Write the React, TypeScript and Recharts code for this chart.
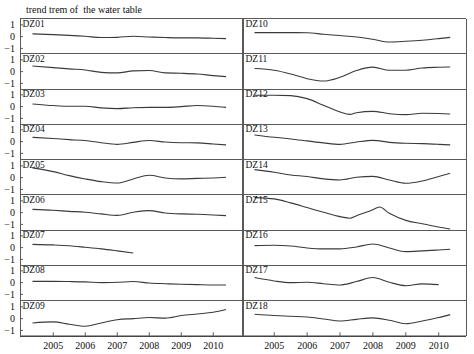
import React from "react";
import { LineChart, Line, XAxis, YAxis } from "recharts";

const title = "trend trem of  the water table";
const yearsLeft = [2004.35, 2005, 2005.5, 2006, 2006.5, 2007, 2007.3, 2007.5, 2008, 2008.2, 2008.5, 2009, 2009.5, 2010, 2010.4];
const yearsRight = [2004.4, 2005, 2005.5, 2006, 2006.5, 2007, 2007.3, 2007.5, 2008, 2008.2, 2008.5, 2009, 2009.5, 2010, 2010.35];
const xTicks = [2005, 2006, 2007, 2008, 2009, 2010];
const yTicks = [-1, 0, 1];

const leftLabels = ["DZ01", "DZ02", "DZ03", "DZ04", "DZ05", "DZ06", "DZ07", "DZ08", "DZ09"];
const rightLabels = ["DZ10", "DZ11", "DZ12", "DZ13", "DZ14", "DZ15", "DZ16", "DZ17", "DZ18"];

const dz01 = [0.23, 0.17, 0.11, 0.03, -0.08, -0.06, null, 0.03, -0.03, null, -0.08, -0.11, -0.11, -0.14, -0.17];
const dz02 = [0.48, 0.34, 0.23, 0.14, -0.06, -0.11, null, 0.06, 0.1, null, -0.11, -0.14, -0.2, -0.34, -0.43];
const dz03 = [0.23, 0.09, 0.03, 0.03, -0.11, -0.17, null, -0.09, -0.06, null, -0.06, 0, 0.09, 0.03, -0.06];
const dz04 = [0.37, 0.26, 0.17, 0.09, -0.09, -0.23, null, -0.06, 0.09, null, -0.03, -0.09, -0.11, -0.2, -0.28];
const dz05 = [0.83, 0.51, 0.17, -0.11, -0.34, -0.46, null, -0.11, 0.2, null, -0.03, -0.11, -0.06, -0.03, 0.03];
const dz06 = [0.28, 0.2, 0.11, 0.03, -0.11, -0.23, null, 0.03, 0.17, null, -0.03, -0.11, -0.14, -0.2, -0.26];
const dz07 = [0.28, 0.23, 0.16, 0.03, -0.11, -0.28, null, -0.46, null, null, null, null, null, null, null];
const dz08 = [0.11, 0.11, 0.09, 0.06, 0, 0.03, null, 0.09, -0.03, null, -0.09, -0.14, -0.17, -0.2, -0.2];
const dz09 = [-0.37, -0.28, -0.48, -0.65, -0.37, -0.09, null, 0, 0.09, null, 0.04, 0.26, 0.4, 0.54, 0.77];

const dz10 = [0.34, 0.34, 0.34, 0.33, 0.2, 0.09, null, -0.03, -0.23, null, -0.46, -0.4, -0.31, -0.17, -0.06];
const dz11 = [0.26, 0.11, -0.2, -0.6, -0.8, -0.48, null, 0.09, 0.38, null, 0.12, 0.12, 0.31, 0.37, 0.4];
const dz12 = [0.97, 0.97, 0.94, 0.68, 0.11, -0.45, -0.66, -0.52, -0.4, null, -0.6, -0.68, -0.57, -0.58, -0.63];
const dz13 = [0.57, 0.37, 0.23, 0.06, -0.11, -0.23, null, -0.03, 0.11, null, -0.06, -0.14, -0.17, -0.23, -0.28];
const dz14 = [0.68, 0.46, 0.23, 0.09, -0.11, -0.2, null, 0.03, 0.11, null, -0.2, -0.48, -0.28, 0.09, 0.37];
const dz15 = [1.28, 1.17, 0.83, 0.43, 0.03, -0.34, -0.48, -0.26, 0.25, 0.48, -0.06, -0.66, -0.94, -1.23, -1.4];
const dz16 = [0.17, 0.2, 0.14, -0.03, -0.11, -0.11, null, 0.06, 0.31, null, -0.03, -0.34, -0.28, -0.2, -0.14];
const dz17 = [0.43, 0.14, 0, 0.03, -0.09, -0.2, null, 0.09, 0.43, null, 0.03, -0.26, -0.11, -0.17, null];
const dz18 = [0.37, 0.26, 0.2, 0.14, -0.03, -0.2, null, -0.06, 0.06, null, -0.14, -0.43, -0.2, 0.09, 0.34];

const leftSeries = [dz01, dz02, dz03, dz04, dz05, dz06, dz07, dz08, dz09];
const rightSeries = [dz10, dz11, dz12, dz13, dz14, dz15, dz16, dz17, dz18];

const TOP = 18.5;
const H = 35.25;
const ROWS = 9;
const FONT = "'Liberation Serif', 'DejaVu Serif', serif";
const LINE = "#3a3a3a";
const FRAME = "#5a5a5a";

const fmt = (v: number) => (v < 0 ? "\u2212" + Math.abs(v) : String(v));

const YTick = (props: any) => {
  const { x, y, payload } = props;
  return (
    <g>
      <line x1={x} x2={x + 3} y1={y} y2={y} stroke={FRAME} strokeWidth={1} />
      <text x={x - 5} y={y} dy={3.5} textAnchor="end" fontSize={10} fill="#111" fontFamily={FONT}>
        {fmt(payload.value)}
      </text>
    </g>
  );
};

const XTick = (props: any) => {
  const { x, y, payload } = props;
  return (
    <g>
      <line x1={x} x2={x} y1={y} y2={y - 4} stroke={FRAME} strokeWidth={1} />
      <text x={x} y={y + 13} textAnchor="middle" fontSize={10} fill="#111" fontFamily={FONT}>
        {payload.value}
      </text>
    </g>
  );
};

type PanelProps = {
  years: number[];
  values: (number | null)[];
  left: boolean;
  bottom: boolean;
  width: number;
  domain: [number, number];
};

const Panel = ({ years, values, left, bottom, width, domain }: PanelProps) => {
  const data = years.map((year, i) => ({ year, v: values[i] }));
  return (
    <LineChart
      width={width}
      height={bottom ? H + 20 : H}
      data={data}
      margin={{ top: 0, right: 0, bottom: 0, left: 0 }}
    >
      <XAxis
        type="number"
        dataKey="year"
        domain={domain}
        allowDataOverflow
        ticks={xTicks}
        interval={0}
        hide={!bottom}
        height={20}
        tickSize={0}
        tickMargin={0}
        tickLine={false}
        axisLine={{ stroke: "#444", strokeWidth: 1.5 }}
        tick={<XTick />}
      />
      <YAxis
        type="number"
        domain={[-1.5, 1.5]}
        allowDataOverflow
        ticks={yTicks}
        interval={0}
        hide={!left}
        width={20}
        tickSize={0}
        tickMargin={0}
        tickLine={false}
        axisLine={false}
        tick={<YTick />}
      />
      <Line
        type="monotone"
        dataKey="v"
        stroke={LINE}
        strokeWidth={1.1}
        dot={false}
        connectNulls
        isAnimationActive={false}
      />
    </LineChart>
  );
};

export default function App() {
  const rows = Array.from({ length: ROWS }, (_, i) => i);
  return (
    <div
      style={{
        position: "absolute",
        left: 0,
        top: 0,
        width: 474,
        height: 354,
        background: "#fff",
        fontFamily: FONT,
        overflow: "hidden",
      }}
    >
      <div
        style={{
          position: "absolute",
          left: 26,
          top: 3.6,
          fontSize: 10,
          lineHeight: "12px",
          whiteSpace: "pre",
          color: "#111",
        }}
      >
        {title}
      </div>

      {rows.map((i) => (
        <div key={"l" + i} style={{ position: "absolute", left: 0, top: TOP + i * H }}>
          <Panel
            years={yearsLeft}
            values={leftSeries[i]}
            left
            bottom={i === ROWS - 1}
            width={243}
            domain={[2003.96, 2010.93]}
          />
        </div>
      ))}
      {rows.map((i) => (
        <div key={"r" + i} style={{ position: "absolute", left: 243, top: TOP + i * H }}>
          <Panel
            years={yearsRight}
            values={rightSeries[i]}
            left={false}
            bottom={i === ROWS - 1}
            width={223}
            domain={[2004.05, 2010.83]}
          />
        </div>
      ))}

      {rows.map((i) => (
        <div
          key={"h" + i}
          style={{
            position: "absolute",
            left: 20,
            top: TOP + i * H - 0.5,
            width: 446,
            height: 0,
            borderTop: "1px solid " + FRAME,
          }}
        />
      ))}
      <div
        style={{
          position: "absolute",
          left: 19.5,
          top: TOP,
          width: 0,
          height: H * ROWS,
          borderLeft: "1px solid " + FRAME,
        }}
      />
      <div
        style={{
          position: "absolute",
          left: 242,
          top: TOP,
          width: 0,
          height: H * ROWS,
          borderLeft: "2px solid " + FRAME,
        }}
      />
      <div
        style={{
          position: "absolute",
          left: 465.5,
          top: TOP,
          width: 0,
          height: H * ROWS,
          borderLeft: "1px solid " + FRAME,
        }}
      />

      {rows.map((i) => (
        <div
          key={"ll" + i}
          style={{
            position: "absolute",
            left: 22.5,
            top: TOP + i * H,
            fontSize: 9.5,
            lineHeight: "10px",
            color: "#111",
          }}
        >
          {leftLabels[i]}
        </div>
      ))}
      {rows.map((i) => (
        <div
          key={"rl" + i}
          style={{
            position: "absolute",
            left: 245.5,
            top: TOP + i * H,
            fontSize: 9.5,
            lineHeight: "10px",
            color: "#111",
          }}
        >
          {rightLabels[i]}
        </div>
      ))}
    </div>
  );
}
